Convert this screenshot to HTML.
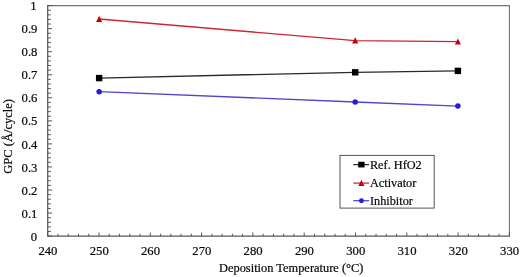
<!DOCTYPE html>
<html><head><meta charset="utf-8"><title>GPC vs Deposition Temperature</title>
<style>
html,body{margin:0;padding:0;background:#fff;}
svg{display:block}
text{font-family:"Liberation Serif","DejaVu Serif",serif;fill:#0a0a0a;stroke:#0a0a0a;stroke-width:0.22px}
</style></head><body>
<svg width="520" height="277" viewBox="0 0 520 277">
<rect width="520" height="277" fill="#fff"/>
<path d="M47.7 5.6H509.4V236.1" fill="none" stroke="#757575" stroke-width="1.1"/>
<path d="M47.7 5.1V236.1H509.9" fill="none" stroke="#585858" stroke-width="1.25"/>
<path d="M47.7 236.10h4.4M47.7 231.49h3.1M47.7 226.88h3.1M47.7 222.27h3.1M47.7 217.66h3.1M47.7 213.05h4.4M47.7 208.44h3.1M47.7 203.83h3.1M47.7 199.22h3.1M47.7 194.61h3.1M47.7 190.00h4.4M47.7 185.39h3.1M47.7 180.78h3.1M47.7 176.17h3.1M47.7 171.56h3.1M47.7 166.95h4.4M47.7 162.34h3.1M47.7 157.73h3.1M47.7 153.12h3.1M47.7 148.51h3.1M47.7 143.90h4.4M47.7 139.29h3.1M47.7 134.68h3.1M47.7 130.07h3.1M47.7 125.46h3.1M47.7 120.85h4.4M47.7 116.24h3.1M47.7 111.63h3.1M47.7 107.02h3.1M47.7 102.41h3.1M47.7 97.80h4.4M47.7 93.19h3.1M47.7 88.58h3.1M47.7 83.97h3.1M47.7 79.36h3.1M47.7 74.75h4.4M47.7 70.14h3.1M47.7 65.53h3.1M47.7 60.92h3.1M47.7 56.31h3.1M47.7 51.70h4.4M47.7 47.09h3.1M47.7 42.48h3.1M47.7 37.87h3.1M47.7 33.26h3.1M47.7 28.65h4.4M47.7 24.04h3.1M47.7 19.43h3.1M47.7 14.82h3.1M47.7 10.21h3.1M47.7 5.60h4.4M47.70 236.1v-3.6M57.96 236.1v-2.3M68.22 236.1v-2.3M78.48 236.1v-2.3M88.74 236.1v-2.3M99.00 236.1v-3.6M109.26 236.1v-2.3M119.52 236.1v-2.3M129.78 236.1v-2.3M140.04 236.1v-2.3M150.30 236.1v-3.6M160.56 236.1v-2.3M170.82 236.1v-2.3M181.08 236.1v-2.3M191.34 236.1v-2.3M201.60 236.1v-3.6M211.86 236.1v-2.3M222.12 236.1v-2.3M232.38 236.1v-2.3M242.64 236.1v-2.3M252.90 236.1v-3.6M263.16 236.1v-2.3M273.42 236.1v-2.3M283.68 236.1v-2.3M293.94 236.1v-2.3M304.20 236.1v-3.6M314.46 236.1v-2.3M324.72 236.1v-2.3M334.98 236.1v-2.3M345.24 236.1v-2.3M355.50 236.1v-3.6M365.76 236.1v-2.3M376.02 236.1v-2.3M386.28 236.1v-2.3M396.54 236.1v-2.3M406.80 236.1v-3.6M417.06 236.1v-2.3M427.32 236.1v-2.3M437.58 236.1v-2.3M447.84 236.1v-2.3M458.10 236.1v-3.6M468.36 236.1v-2.3M478.62 236.1v-2.3M488.88 236.1v-2.3M499.14 236.1v-2.3M509.40 236.1v-3.6" stroke="#555" stroke-width="1" fill="none"/>
<text transform="translate(37.00 240.70) scale(0.94 1)" text-anchor="end" font-size="13.5">0</text>
<text transform="translate(37.40 217.65) scale(0.94 1)" text-anchor="end" font-size="13.5">0.1</text>
<text transform="translate(37.40 194.60) scale(0.94 1)" text-anchor="end" font-size="13.5">0.2</text>
<text transform="translate(37.40 171.55) scale(0.94 1)" text-anchor="end" font-size="13.5">0.3</text>
<text transform="translate(37.40 148.50) scale(0.94 1)" text-anchor="end" font-size="13.5">0.4</text>
<text transform="translate(37.40 125.45) scale(0.94 1)" text-anchor="end" font-size="13.5">0.5</text>
<text transform="translate(37.40 102.40) scale(0.94 1)" text-anchor="end" font-size="13.5">0.6</text>
<text transform="translate(37.40 79.35) scale(0.94 1)" text-anchor="end" font-size="13.5">0.7</text>
<text transform="translate(37.40 56.30) scale(0.94 1)" text-anchor="end" font-size="13.5">0.8</text>
<text transform="translate(37.40 33.25) scale(0.94 1)" text-anchor="end" font-size="13.5">0.9</text>
<text transform="translate(36.70 10.20) scale(0.94 1)" text-anchor="end" font-size="13.5">1</text>
<text transform="translate(47.90 254.90) scale(0.94 1)" text-anchor="middle" font-size="13.5">240</text>
<text transform="translate(99.20 254.90) scale(0.94 1)" text-anchor="middle" font-size="13.5">250</text>
<text transform="translate(150.50 254.90) scale(0.94 1)" text-anchor="middle" font-size="13.5">260</text>
<text transform="translate(201.80 254.90) scale(0.94 1)" text-anchor="middle" font-size="13.5">270</text>
<text transform="translate(253.10 254.90) scale(0.94 1)" text-anchor="middle" font-size="13.5">280</text>
<text transform="translate(304.40 254.90) scale(0.94 1)" text-anchor="middle" font-size="13.5">290</text>
<text transform="translate(355.70 254.90) scale(0.94 1)" text-anchor="middle" font-size="13.5">300</text>
<text transform="translate(407.00 254.90) scale(0.94 1)" text-anchor="middle" font-size="13.5">310</text>
<text transform="translate(458.30 254.90) scale(0.94 1)" text-anchor="middle" font-size="13.5">320</text>
<text transform="translate(509.60 254.90) scale(0.94 1)" text-anchor="middle" font-size="13.5">330</text>
<text transform="translate(291.20 272.00) scale(0.985 1)" text-anchor="middle" font-size="12.6">Deposition Temperature (°C)</text>
<text transform="translate(11.8 136.4) rotate(-90) scale(1 0.92)" text-anchor="middle" font-size="12.5">GPC (Å/cycle)</text>
<polyline points="99.13,78.1 355.20,72.3 457.90,70.9" fill="none" stroke="#2a2a2a" stroke-width="1.35"/>
<rect x="95.93" y="74.90" width="6.4" height="6.4" fill="#000"/>
<rect x="352.00" y="69.10" width="6.4" height="6.4" fill="#000"/>
<rect x="454.70" y="67.70" width="6.4" height="6.4" fill="#000"/>
<polyline points="99.13,19 355.20,40.6 457.90,41.7" fill="none" stroke="#d02530" stroke-width="1.35"/>
<path d="M99.13 15.70l3.05 6.2h-6.1z" fill="#c8000c"/>
<path d="M355.20 37.30l3.05 6.2h-6.1z" fill="#c8000c"/>
<path d="M457.90 38.40l3.05 6.2h-6.1z" fill="#c8000c"/>
<polyline points="99.13,91.7 355.20,102 457.90,106.1" fill="none" stroke="#5046cc" stroke-width="1.35"/>
<circle cx="99.13" cy="91.70" r="2.75" fill="#2a1ae0"/>
<circle cx="355.20" cy="102.00" r="2.75" fill="#2a1ae0"/>
<circle cx="457.90" cy="106.10" r="2.75" fill="#2a1ae0"/>
<rect x="340" y="155.4" width="94.19999999999999" height="52.69999999999999" fill="#fff" stroke="#555" stroke-width="1"/>
<path d="M353.3 164.6h15.8" stroke="#2a2a2a" stroke-width="1.25"/>
<rect x="358.20" y="161.75" width="6.4" height="5.7" fill="#000"/>
<text transform="translate(369.90 168.70) scale(0.975 1)" text-anchor="start" font-size="12.6">Ref. HfO2</text>
<path d="M353.3 183.1h15.8" stroke="#d02530" stroke-width="1.25"/>
<path d="M361.40 179.80l3.05 6.2h-6.1z" fill="#c8000c"/>
<text transform="translate(369.90 187.10) scale(0.975 1)" text-anchor="start" font-size="12.6">Activator</text>
<path d="M353.3 200.7h15.8" stroke="#5046cc" stroke-width="1.25"/>
<circle cx="361.40" cy="200.70" r="2.45" fill="#2a1ae0"/>
<text transform="translate(369.90 204.60) scale(0.975 1)" text-anchor="start" font-size="12.6">Inhibitor</text>
</svg>
</body></html>
